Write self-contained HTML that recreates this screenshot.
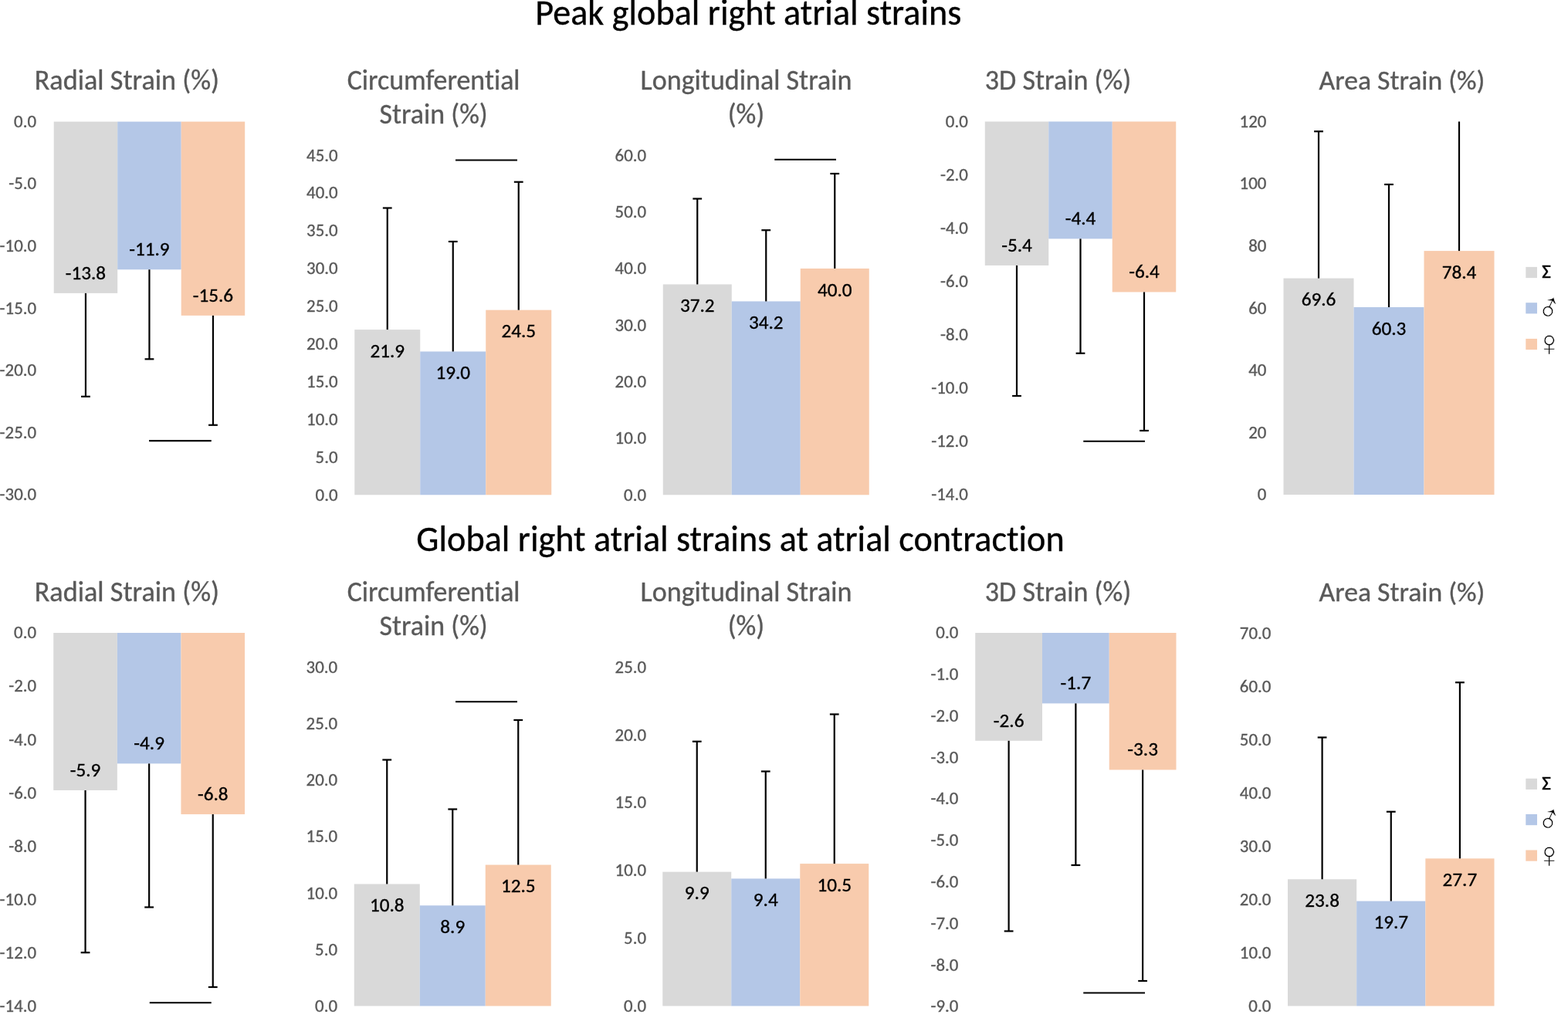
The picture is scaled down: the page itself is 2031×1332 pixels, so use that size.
<!DOCTYPE html>
<html><head><meta charset="utf-8"><title>Right atrial strains</title>
<style>
html,body{margin:0;padding:0;background:#fff;}
body{width:2031px;height:1332px;overflow:hidden;}
svg{display:block;font-family:Carlito, 'Liberation Sans', sans-serif;font-variant-ligatures:none;font-feature-settings:'liga' 0,'clig' 0;}
text{stroke-width:0.35px;}
</style></head><body>
<svg width="2031" height="1332" viewBox="0 0 2031 1332">
<rect width="2031" height="1332" fill="#fff"/>
<text x="164.40" y="116.25" font-size="36.2" fill="#595959" stroke="#595959" text-anchor="middle" textLength="239.39" lengthAdjust="spacingAndGlyphs">Radial Strain (%)</text>
<text x="47.00" y="648.14" font-size="22.8" fill="#595959" stroke="#595959" text-anchor="end" textLength="47.41" lengthAdjust="spacingAndGlyphs">-30.0</text>
<text x="47.00" y="567.61" font-size="22.8" fill="#595959" stroke="#595959" text-anchor="end" textLength="47.41" lengthAdjust="spacingAndGlyphs">-25.0</text>
<text x="47.00" y="487.07" font-size="22.8" fill="#595959" stroke="#595959" text-anchor="end" textLength="47.41" lengthAdjust="spacingAndGlyphs">-20.0</text>
<text x="47.00" y="406.54" font-size="22.8" fill="#595959" stroke="#595959" text-anchor="end" textLength="47.41" lengthAdjust="spacingAndGlyphs">-15.0</text>
<text x="47.00" y="326.01" font-size="22.8" fill="#595959" stroke="#595959" text-anchor="end" textLength="47.41" lengthAdjust="spacingAndGlyphs">-10.0</text>
<text x="47.00" y="245.47" font-size="22.8" fill="#595959" stroke="#595959" text-anchor="end" textLength="35.84" lengthAdjust="spacingAndGlyphs">-5.0</text>
<text x="47.00" y="164.94" font-size="22.8" fill="#595959" stroke="#595959" text-anchor="end" textLength="28.88" lengthAdjust="spacingAndGlyphs">0.0</text>
<rect x="69.70" y="157.60" width="82.50" height="222.27" fill="#D9D9D9"/>
<rect x="152.20" y="157.60" width="82.50" height="191.67" fill="#B4C7E7"/>
<rect x="234.70" y="157.60" width="82.50" height="251.26" fill="#F8CBAD"/>
<line x1="110.95" y1="379.87" x2="110.95" y2="513.80" stroke="#000" stroke-width="2.2"/>
<line x1="105.05" y1="513.80" x2="116.85" y2="513.80" stroke="#000" stroke-width="2.2"/>
<text x="110.95" y="361.77" font-size="25.2" fill="#000" stroke="#000" text-anchor="middle" textLength="52.38" lengthAdjust="spacingAndGlyphs">-13.8</text>
<line x1="193.45" y1="349.27" x2="193.45" y2="465.30" stroke="#000" stroke-width="2.2"/>
<line x1="187.55" y1="465.30" x2="199.35" y2="465.30" stroke="#000" stroke-width="2.2"/>
<text x="193.45" y="331.17" font-size="25.2" fill="#000" stroke="#000" text-anchor="middle" textLength="52.38" lengthAdjust="spacingAndGlyphs">-11.9</text>
<line x1="275.95" y1="408.86" x2="275.95" y2="550.75" stroke="#000" stroke-width="2.2"/>
<line x1="270.05" y1="550.75" x2="281.85" y2="550.75" stroke="#000" stroke-width="2.2"/>
<text x="275.95" y="390.76" font-size="25.2" fill="#000" stroke="#000" text-anchor="middle" textLength="52.38" lengthAdjust="spacingAndGlyphs">-15.6</text>
<line x1="193.10" y1="571.10" x2="273.75" y2="571.10" stroke="#000" stroke-width="2.2"/>
<text x="561.65" y="116.25" font-size="35.9" fill="#595959" stroke="#595959" text-anchor="middle" textLength="223.89" lengthAdjust="spacingAndGlyphs">Circumferential</text>
<text x="561.65" y="160.00" font-size="35.9" fill="#595959" stroke="#595959" text-anchor="middle" textLength="140.12" lengthAdjust="spacingAndGlyphs">Strain (%)</text>
<text x="437.50" y="648.59" font-size="22.8" fill="#595959" stroke="#595959" text-anchor="end" textLength="28.88" lengthAdjust="spacingAndGlyphs">0.0</text>
<text x="437.50" y="599.70" font-size="22.8" fill="#595959" stroke="#595959" text-anchor="end" textLength="28.88" lengthAdjust="spacingAndGlyphs">5.0</text>
<text x="437.50" y="550.81" font-size="22.8" fill="#595959" stroke="#595959" text-anchor="end" textLength="40.42" lengthAdjust="spacingAndGlyphs">10.0</text>
<text x="437.50" y="501.92" font-size="22.8" fill="#595959" stroke="#595959" text-anchor="end" textLength="40.42" lengthAdjust="spacingAndGlyphs">15.0</text>
<text x="437.50" y="453.04" font-size="22.8" fill="#595959" stroke="#595959" text-anchor="end" textLength="40.42" lengthAdjust="spacingAndGlyphs">20.0</text>
<text x="437.50" y="404.15" font-size="22.8" fill="#595959" stroke="#595959" text-anchor="end" textLength="40.42" lengthAdjust="spacingAndGlyphs">25.0</text>
<text x="437.50" y="355.26" font-size="22.8" fill="#595959" stroke="#595959" text-anchor="end" textLength="40.42" lengthAdjust="spacingAndGlyphs">30.0</text>
<text x="437.50" y="306.37" font-size="22.8" fill="#595959" stroke="#595959" text-anchor="end" textLength="40.42" lengthAdjust="spacingAndGlyphs">35.0</text>
<text x="437.50" y="257.48" font-size="22.8" fill="#595959" stroke="#595959" text-anchor="end" textLength="40.42" lengthAdjust="spacingAndGlyphs">40.0</text>
<text x="437.50" y="208.59" font-size="22.8" fill="#595959" stroke="#595959" text-anchor="end" textLength="40.42" lengthAdjust="spacingAndGlyphs">45.0</text>
<rect x="459.25" y="427.12" width="85.00" height="214.13" fill="#D9D9D9"/>
<rect x="544.25" y="455.47" width="85.00" height="185.78" fill="#B4C7E7"/>
<rect x="629.25" y="401.69" width="85.00" height="239.56" fill="#F8CBAD"/>
<line x1="501.75" y1="427.12" x2="501.75" y2="269.50" stroke="#000" stroke-width="2.2"/>
<line x1="495.85" y1="269.50" x2="507.65" y2="269.50" stroke="#000" stroke-width="2.2"/>
<text x="501.75" y="462.87" font-size="25.2" fill="#000" stroke="#000" text-anchor="middle" textLength="44.66" lengthAdjust="spacingAndGlyphs">21.9</text>
<line x1="586.75" y1="455.47" x2="586.75" y2="313.00" stroke="#000" stroke-width="2.2"/>
<line x1="580.85" y1="313.00" x2="592.65" y2="313.00" stroke="#000" stroke-width="2.2"/>
<text x="586.75" y="491.22" font-size="25.2" fill="#000" stroke="#000" text-anchor="middle" textLength="44.66" lengthAdjust="spacingAndGlyphs">19.0</text>
<line x1="671.75" y1="401.69" x2="671.75" y2="235.75" stroke="#000" stroke-width="2.2"/>
<line x1="665.85" y1="235.75" x2="677.65" y2="235.75" stroke="#000" stroke-width="2.2"/>
<text x="671.75" y="437.44" font-size="25.2" fill="#000" stroke="#000" text-anchor="middle" textLength="44.66" lengthAdjust="spacingAndGlyphs">24.5</text>
<line x1="590.00" y1="207.50" x2="670.00" y2="207.50" stroke="#000" stroke-width="2.2"/>
<text x="966.50" y="116.25" font-size="36.0" fill="#595959" stroke="#595959" text-anchor="middle" textLength="273.78" lengthAdjust="spacingAndGlyphs">Longitudinal Strain</text>
<text x="966.50" y="160.00" font-size="36.0" fill="#595959" stroke="#595959" text-anchor="middle" textLength="47.58" lengthAdjust="spacingAndGlyphs">(%)</text>
<text x="837.00" y="648.59" font-size="22.8" fill="#595959" stroke="#595959" text-anchor="end" textLength="28.88" lengthAdjust="spacingAndGlyphs">0.0</text>
<text x="837.00" y="575.26" font-size="22.8" fill="#595959" stroke="#595959" text-anchor="end" textLength="40.42" lengthAdjust="spacingAndGlyphs">10.0</text>
<text x="837.00" y="501.92" font-size="22.8" fill="#595959" stroke="#595959" text-anchor="end" textLength="40.42" lengthAdjust="spacingAndGlyphs">20.0</text>
<text x="837.00" y="428.59" font-size="22.8" fill="#595959" stroke="#595959" text-anchor="end" textLength="40.42" lengthAdjust="spacingAndGlyphs">30.0</text>
<text x="837.00" y="355.26" font-size="22.8" fill="#595959" stroke="#595959" text-anchor="end" textLength="40.42" lengthAdjust="spacingAndGlyphs">40.0</text>
<text x="837.00" y="281.92" font-size="22.8" fill="#595959" stroke="#595959" text-anchor="end" textLength="40.42" lengthAdjust="spacingAndGlyphs">50.0</text>
<text x="837.00" y="208.59" font-size="22.8" fill="#595959" stroke="#595959" text-anchor="end" textLength="40.42" lengthAdjust="spacingAndGlyphs">60.0</text>
<rect x="858.75" y="368.45" width="89.00" height="272.80" fill="#D9D9D9"/>
<rect x="947.75" y="390.45" width="89.00" height="250.80" fill="#B4C7E7"/>
<rect x="1036.75" y="347.92" width="89.00" height="293.33" fill="#F8CBAD"/>
<line x1="903.25" y1="368.45" x2="903.25" y2="257.50" stroke="#000" stroke-width="2.2"/>
<line x1="897.35" y1="257.50" x2="909.15" y2="257.50" stroke="#000" stroke-width="2.2"/>
<text x="903.25" y="404.20" font-size="25.2" fill="#000" stroke="#000" text-anchor="middle" textLength="44.66" lengthAdjust="spacingAndGlyphs">37.2</text>
<line x1="992.25" y1="390.45" x2="992.25" y2="298.25" stroke="#000" stroke-width="2.2"/>
<line x1="986.35" y1="298.25" x2="998.15" y2="298.25" stroke="#000" stroke-width="2.2"/>
<text x="992.25" y="426.20" font-size="25.2" fill="#000" stroke="#000" text-anchor="middle" textLength="44.66" lengthAdjust="spacingAndGlyphs">34.2</text>
<line x1="1081.25" y1="347.92" x2="1081.25" y2="225.00" stroke="#000" stroke-width="2.2"/>
<line x1="1075.35" y1="225.00" x2="1087.15" y2="225.00" stroke="#000" stroke-width="2.2"/>
<text x="1081.25" y="383.67" font-size="25.2" fill="#000" stroke="#000" text-anchor="middle" textLength="44.66" lengthAdjust="spacingAndGlyphs">40.0</text>
<line x1="1003.25" y1="206.75" x2="1083.00" y2="206.75" stroke="#000" stroke-width="2.2"/>
<text x="1370.50" y="116.25" font-size="36.05" fill="#595959" stroke="#595959" text-anchor="middle" textLength="189.33" lengthAdjust="spacingAndGlyphs">3D Strain (%)</text>
<text x="1253.75" y="648.14" font-size="22.8" fill="#595959" stroke="#595959" text-anchor="end" textLength="47.41" lengthAdjust="spacingAndGlyphs">-14.0</text>
<text x="1253.75" y="579.10" font-size="22.8" fill="#595959" stroke="#595959" text-anchor="end" textLength="47.41" lengthAdjust="spacingAndGlyphs">-12.0</text>
<text x="1253.75" y="510.06" font-size="22.8" fill="#595959" stroke="#595959" text-anchor="end" textLength="47.41" lengthAdjust="spacingAndGlyphs">-10.0</text>
<text x="1253.75" y="441.01" font-size="22.8" fill="#595959" stroke="#595959" text-anchor="end" textLength="35.84" lengthAdjust="spacingAndGlyphs">-8.0</text>
<text x="1253.75" y="371.97" font-size="22.8" fill="#595959" stroke="#595959" text-anchor="end" textLength="35.84" lengthAdjust="spacingAndGlyphs">-6.0</text>
<text x="1253.75" y="302.93" font-size="22.8" fill="#595959" stroke="#595959" text-anchor="end" textLength="35.84" lengthAdjust="spacingAndGlyphs">-4.0</text>
<text x="1253.75" y="233.88" font-size="22.8" fill="#595959" stroke="#595959" text-anchor="end" textLength="35.84" lengthAdjust="spacingAndGlyphs">-2.0</text>
<text x="1253.75" y="164.84" font-size="22.8" fill="#595959" stroke="#595959" text-anchor="end" textLength="28.88" lengthAdjust="spacingAndGlyphs">0.0</text>
<rect x="1275.75" y="157.50" width="82.50" height="186.42" fill="#D9D9D9"/>
<rect x="1358.25" y="157.50" width="82.50" height="151.89" fill="#B4C7E7"/>
<rect x="1440.75" y="157.50" width="82.50" height="220.94" fill="#F8CBAD"/>
<line x1="1317.00" y1="343.92" x2="1317.00" y2="513.00" stroke="#000" stroke-width="2.2"/>
<line x1="1311.10" y1="513.00" x2="1322.90" y2="513.00" stroke="#000" stroke-width="2.2"/>
<text x="1317.00" y="325.82" font-size="25.2" fill="#000" stroke="#000" text-anchor="middle" textLength="39.61" lengthAdjust="spacingAndGlyphs">-5.4</text>
<line x1="1399.50" y1="309.39" x2="1399.50" y2="457.75" stroke="#000" stroke-width="2.2"/>
<line x1="1393.60" y1="457.75" x2="1405.40" y2="457.75" stroke="#000" stroke-width="2.2"/>
<text x="1399.50" y="291.29" font-size="25.2" fill="#000" stroke="#000" text-anchor="middle" textLength="39.61" lengthAdjust="spacingAndGlyphs">-4.4</text>
<line x1="1482.00" y1="378.44" x2="1482.00" y2="558.00" stroke="#000" stroke-width="2.2"/>
<line x1="1476.10" y1="558.00" x2="1487.90" y2="558.00" stroke="#000" stroke-width="2.2"/>
<text x="1482.00" y="360.34" font-size="25.2" fill="#000" stroke="#000" text-anchor="middle" textLength="39.61" lengthAdjust="spacingAndGlyphs">-6.4</text>
<line x1="1403.25" y1="571.75" x2="1483.00" y2="571.75" stroke="#000" stroke-width="2.2"/>
<text x="1816.00" y="116.25" font-size="35.7" fill="#595959" stroke="#595959" text-anchor="middle" textLength="214.86" lengthAdjust="spacingAndGlyphs">Area Strain (%)</text>
<text x="1640.25" y="648.34" font-size="22.8" fill="#595959" stroke="#595959" text-anchor="end" textLength="11.56" lengthAdjust="spacingAndGlyphs">0</text>
<text x="1640.25" y="567.76" font-size="22.8" fill="#595959" stroke="#595959" text-anchor="end" textLength="23.11" lengthAdjust="spacingAndGlyphs">20</text>
<text x="1640.25" y="487.17" font-size="22.8" fill="#595959" stroke="#595959" text-anchor="end" textLength="23.11" lengthAdjust="spacingAndGlyphs">40</text>
<text x="1640.25" y="406.59" font-size="22.8" fill="#595959" stroke="#595959" text-anchor="end" textLength="23.11" lengthAdjust="spacingAndGlyphs">60</text>
<text x="1640.25" y="326.01" font-size="22.8" fill="#595959" stroke="#595959" text-anchor="end" textLength="23.11" lengthAdjust="spacingAndGlyphs">80</text>
<text x="1640.25" y="245.42" font-size="22.8" fill="#595959" stroke="#595959" text-anchor="end" textLength="34.67" lengthAdjust="spacingAndGlyphs">100</text>
<text x="1640.25" y="164.84" font-size="22.8" fill="#595959" stroke="#595959" text-anchor="end" textLength="34.67" lengthAdjust="spacingAndGlyphs">120</text>
<rect x="1662.50" y="360.57" width="91.00" height="280.43" fill="#D9D9D9"/>
<rect x="1753.50" y="398.04" width="91.00" height="242.96" fill="#B4C7E7"/>
<rect x="1844.50" y="325.11" width="91.00" height="315.89" fill="#F8CBAD"/>
<line x1="1708.00" y1="360.57" x2="1708.00" y2="170.25" stroke="#000" stroke-width="2.2"/>
<line x1="1702.10" y1="170.25" x2="1713.90" y2="170.25" stroke="#000" stroke-width="2.2"/>
<text x="1708.00" y="396.32" font-size="25.2" fill="#000" stroke="#000" text-anchor="middle" textLength="44.66" lengthAdjust="spacingAndGlyphs">69.6</text>
<line x1="1799.00" y1="398.04" x2="1799.00" y2="239.00" stroke="#000" stroke-width="2.2"/>
<line x1="1793.10" y1="239.00" x2="1804.90" y2="239.00" stroke="#000" stroke-width="2.2"/>
<text x="1799.00" y="433.79" font-size="25.2" fill="#000" stroke="#000" text-anchor="middle" textLength="44.66" lengthAdjust="spacingAndGlyphs">60.3</text>
<line x1="1890.00" y1="325.11" x2="1890.00" y2="157.50" stroke="#000" stroke-width="2.2"/>
<text x="1890.00" y="360.86" font-size="25.2" fill="#000" stroke="#000" text-anchor="middle" textLength="44.66" lengthAdjust="spacingAndGlyphs">78.4</text>
<text x="164.40" y="778.75" font-size="36.2" fill="#595959" stroke="#595959" text-anchor="middle" textLength="239.39" lengthAdjust="spacingAndGlyphs">Radial Strain (%)</text>
<text x="47.00" y="1311.34" font-size="22.8" fill="#595959" stroke="#595959" text-anchor="end" textLength="47.41" lengthAdjust="spacingAndGlyphs">-14.0</text>
<text x="47.00" y="1242.20" font-size="22.8" fill="#595959" stroke="#595959" text-anchor="end" textLength="47.41" lengthAdjust="spacingAndGlyphs">-12.0</text>
<text x="47.00" y="1173.06" font-size="22.8" fill="#595959" stroke="#595959" text-anchor="end" textLength="47.41" lengthAdjust="spacingAndGlyphs">-10.0</text>
<text x="47.00" y="1103.91" font-size="22.8" fill="#595959" stroke="#595959" text-anchor="end" textLength="35.84" lengthAdjust="spacingAndGlyphs">-8.0</text>
<text x="47.00" y="1034.77" font-size="22.8" fill="#595959" stroke="#595959" text-anchor="end" textLength="35.84" lengthAdjust="spacingAndGlyphs">-6.0</text>
<text x="47.00" y="965.63" font-size="22.8" fill="#595959" stroke="#595959" text-anchor="end" textLength="35.84" lengthAdjust="spacingAndGlyphs">-4.0</text>
<text x="47.00" y="896.48" font-size="22.8" fill="#595959" stroke="#595959" text-anchor="end" textLength="35.84" lengthAdjust="spacingAndGlyphs">-2.0</text>
<text x="47.00" y="827.34" font-size="22.8" fill="#595959" stroke="#595959" text-anchor="end" textLength="28.88" lengthAdjust="spacingAndGlyphs">0.0</text>
<rect x="69.25" y="820.00" width="82.60" height="203.97" fill="#D9D9D9"/>
<rect x="151.85" y="820.00" width="82.60" height="169.40" fill="#B4C7E7"/>
<rect x="234.45" y="820.00" width="82.60" height="235.09" fill="#F8CBAD"/>
<line x1="110.55" y1="1023.97" x2="110.55" y2="1234.25" stroke="#000" stroke-width="2.2"/>
<line x1="104.65" y1="1234.25" x2="116.45" y2="1234.25" stroke="#000" stroke-width="2.2"/>
<text x="110.55" y="1005.87" font-size="25.2" fill="#000" stroke="#000" text-anchor="middle" textLength="39.61" lengthAdjust="spacingAndGlyphs">-5.9</text>
<line x1="193.15" y1="989.40" x2="193.15" y2="1175.50" stroke="#000" stroke-width="2.2"/>
<line x1="187.25" y1="1175.50" x2="199.05" y2="1175.50" stroke="#000" stroke-width="2.2"/>
<text x="193.15" y="971.30" font-size="25.2" fill="#000" stroke="#000" text-anchor="middle" textLength="39.61" lengthAdjust="spacingAndGlyphs">-4.9</text>
<line x1="275.75" y1="1055.09" x2="275.75" y2="1279.00" stroke="#000" stroke-width="2.2"/>
<line x1="269.85" y1="1279.00" x2="281.65" y2="1279.00" stroke="#000" stroke-width="2.2"/>
<text x="275.75" y="1036.99" font-size="25.2" fill="#000" stroke="#000" text-anchor="middle" textLength="39.61" lengthAdjust="spacingAndGlyphs">-6.8</text>
<line x1="193.75" y1="1299.25" x2="273.75" y2="1299.25" stroke="#000" stroke-width="2.2"/>
<text x="561.65" y="778.75" font-size="35.9" fill="#595959" stroke="#595959" text-anchor="middle" textLength="223.89" lengthAdjust="spacingAndGlyphs">Circumferential</text>
<text x="561.65" y="822.50" font-size="35.9" fill="#595959" stroke="#595959" text-anchor="middle" textLength="140.12" lengthAdjust="spacingAndGlyphs">Strain (%)</text>
<text x="437.00" y="1310.84" font-size="22.8" fill="#595959" stroke="#595959" text-anchor="end" textLength="28.88" lengthAdjust="spacingAndGlyphs">0.0</text>
<text x="437.00" y="1237.67" font-size="22.8" fill="#595959" stroke="#595959" text-anchor="end" textLength="28.88" lengthAdjust="spacingAndGlyphs">5.0</text>
<text x="437.00" y="1164.51" font-size="22.8" fill="#595959" stroke="#595959" text-anchor="end" textLength="40.42" lengthAdjust="spacingAndGlyphs">10.0</text>
<text x="437.00" y="1091.34" font-size="22.8" fill="#595959" stroke="#595959" text-anchor="end" textLength="40.42" lengthAdjust="spacingAndGlyphs">15.0</text>
<text x="437.00" y="1018.17" font-size="22.8" fill="#595959" stroke="#595959" text-anchor="end" textLength="40.42" lengthAdjust="spacingAndGlyphs">20.0</text>
<text x="437.00" y="945.01" font-size="22.8" fill="#595959" stroke="#595959" text-anchor="end" textLength="40.42" lengthAdjust="spacingAndGlyphs">25.0</text>
<text x="437.00" y="871.84" font-size="22.8" fill="#595959" stroke="#595959" text-anchor="end" textLength="40.42" lengthAdjust="spacingAndGlyphs">30.0</text>
<rect x="458.75" y="1145.46" width="85.00" height="158.04" fill="#D9D9D9"/>
<rect x="543.75" y="1173.26" width="85.00" height="130.24" fill="#B4C7E7"/>
<rect x="628.75" y="1120.58" width="85.00" height="182.92" fill="#F8CBAD"/>
<line x1="501.25" y1="1145.46" x2="501.25" y2="984.50" stroke="#000" stroke-width="2.2"/>
<line x1="495.35" y1="984.50" x2="507.15" y2="984.50" stroke="#000" stroke-width="2.2"/>
<text x="501.25" y="1181.21" font-size="25.2" fill="#000" stroke="#000" text-anchor="middle" textLength="44.66" lengthAdjust="spacingAndGlyphs">10.8</text>
<line x1="586.25" y1="1173.26" x2="586.25" y2="1048.50" stroke="#000" stroke-width="2.2"/>
<line x1="580.35" y1="1048.50" x2="592.15" y2="1048.50" stroke="#000" stroke-width="2.2"/>
<text x="586.25" y="1209.01" font-size="25.2" fill="#000" stroke="#000" text-anchor="middle" textLength="31.89" lengthAdjust="spacingAndGlyphs">8.9</text>
<line x1="671.25" y1="1120.58" x2="671.25" y2="933.00" stroke="#000" stroke-width="2.2"/>
<line x1="665.35" y1="933.00" x2="677.15" y2="933.00" stroke="#000" stroke-width="2.2"/>
<text x="671.25" y="1156.33" font-size="25.2" fill="#000" stroke="#000" text-anchor="middle" textLength="44.66" lengthAdjust="spacingAndGlyphs">12.5</text>
<line x1="590.00" y1="909.25" x2="670.00" y2="909.25" stroke="#000" stroke-width="2.2"/>
<text x="966.50" y="778.75" font-size="36.0" fill="#595959" stroke="#595959" text-anchor="middle" textLength="273.78" lengthAdjust="spacingAndGlyphs">Longitudinal Strain</text>
<text x="966.50" y="822.50" font-size="36.0" fill="#595959" stroke="#595959" text-anchor="middle" textLength="47.58" lengthAdjust="spacingAndGlyphs">(%)</text>
<text x="837.00" y="1310.84" font-size="22.8" fill="#595959" stroke="#595959" text-anchor="end" textLength="28.88" lengthAdjust="spacingAndGlyphs">0.0</text>
<text x="837.00" y="1223.04" font-size="22.8" fill="#595959" stroke="#595959" text-anchor="end" textLength="28.88" lengthAdjust="spacingAndGlyphs">5.0</text>
<text x="837.00" y="1135.24" font-size="22.8" fill="#595959" stroke="#595959" text-anchor="end" textLength="40.42" lengthAdjust="spacingAndGlyphs">10.0</text>
<text x="837.00" y="1047.44" font-size="22.8" fill="#595959" stroke="#595959" text-anchor="end" textLength="40.42" lengthAdjust="spacingAndGlyphs">15.0</text>
<text x="837.00" y="959.64" font-size="22.8" fill="#595959" stroke="#595959" text-anchor="end" textLength="40.42" lengthAdjust="spacingAndGlyphs">20.0</text>
<text x="837.00" y="871.84" font-size="22.8" fill="#595959" stroke="#595959" text-anchor="end" textLength="40.42" lengthAdjust="spacingAndGlyphs">25.0</text>
<rect x="858.25" y="1129.66" width="89.00" height="173.84" fill="#D9D9D9"/>
<rect x="947.25" y="1138.44" width="89.00" height="165.06" fill="#B4C7E7"/>
<rect x="1036.25" y="1119.12" width="89.00" height="184.38" fill="#F8CBAD"/>
<line x1="902.75" y1="1129.66" x2="902.75" y2="960.75" stroke="#000" stroke-width="2.2"/>
<line x1="896.85" y1="960.75" x2="908.65" y2="960.75" stroke="#000" stroke-width="2.2"/>
<text x="902.75" y="1165.41" font-size="25.2" fill="#000" stroke="#000" text-anchor="middle" textLength="31.89" lengthAdjust="spacingAndGlyphs">9.9</text>
<line x1="991.75" y1="1138.44" x2="991.75" y2="999.50" stroke="#000" stroke-width="2.2"/>
<line x1="985.85" y1="999.50" x2="997.65" y2="999.50" stroke="#000" stroke-width="2.2"/>
<text x="991.75" y="1174.19" font-size="25.2" fill="#000" stroke="#000" text-anchor="middle" textLength="31.89" lengthAdjust="spacingAndGlyphs">9.4</text>
<line x1="1080.75" y1="1119.12" x2="1080.75" y2="925.50" stroke="#000" stroke-width="2.2"/>
<line x1="1074.85" y1="925.50" x2="1086.65" y2="925.50" stroke="#000" stroke-width="2.2"/>
<text x="1080.75" y="1154.87" font-size="25.2" fill="#000" stroke="#000" text-anchor="middle" textLength="44.66" lengthAdjust="spacingAndGlyphs">10.5</text>
<text x="1370.50" y="778.75" font-size="36.05" fill="#595959" stroke="#595959" text-anchor="middle" textLength="189.33" lengthAdjust="spacingAndGlyphs">3D Strain (%)</text>
<text x="1241.25" y="1311.34" font-size="22.8" fill="#595959" stroke="#595959" text-anchor="end" textLength="35.84" lengthAdjust="spacingAndGlyphs">-9.0</text>
<text x="1241.25" y="1257.56" font-size="22.8" fill="#595959" stroke="#595959" text-anchor="end" textLength="35.84" lengthAdjust="spacingAndGlyphs">-8.0</text>
<text x="1241.25" y="1203.79" font-size="22.8" fill="#595959" stroke="#595959" text-anchor="end" textLength="35.84" lengthAdjust="spacingAndGlyphs">-7.0</text>
<text x="1241.25" y="1150.01" font-size="22.8" fill="#595959" stroke="#595959" text-anchor="end" textLength="35.84" lengthAdjust="spacingAndGlyphs">-6.0</text>
<text x="1241.25" y="1096.23" font-size="22.8" fill="#595959" stroke="#595959" text-anchor="end" textLength="35.84" lengthAdjust="spacingAndGlyphs">-5.0</text>
<text x="1241.25" y="1042.45" font-size="22.8" fill="#595959" stroke="#595959" text-anchor="end" textLength="35.84" lengthAdjust="spacingAndGlyphs">-4.0</text>
<text x="1241.25" y="988.67" font-size="22.8" fill="#595959" stroke="#595959" text-anchor="end" textLength="35.84" lengthAdjust="spacingAndGlyphs">-3.0</text>
<text x="1241.25" y="934.90" font-size="22.8" fill="#595959" stroke="#595959" text-anchor="end" textLength="35.84" lengthAdjust="spacingAndGlyphs">-2.0</text>
<text x="1241.25" y="881.12" font-size="22.8" fill="#595959" stroke="#595959" text-anchor="end" textLength="35.84" lengthAdjust="spacingAndGlyphs">-1.0</text>
<text x="1241.25" y="827.34" font-size="22.8" fill="#595959" stroke="#595959" text-anchor="end" textLength="28.88" lengthAdjust="spacingAndGlyphs">0.0</text>
<rect x="1263.25" y="820.00" width="86.75" height="139.82" fill="#D9D9D9"/>
<rect x="1350.00" y="820.00" width="86.75" height="91.42" fill="#B4C7E7"/>
<rect x="1436.75" y="820.00" width="86.75" height="177.47" fill="#F8CBAD"/>
<line x1="1306.62" y1="959.82" x2="1306.62" y2="1206.50" stroke="#000" stroke-width="2.2"/>
<line x1="1300.72" y1="1206.50" x2="1312.53" y2="1206.50" stroke="#000" stroke-width="2.2"/>
<text x="1306.62" y="941.72" font-size="25.2" fill="#000" stroke="#000" text-anchor="middle" textLength="39.61" lengthAdjust="spacingAndGlyphs">-2.6</text>
<line x1="1393.38" y1="911.42" x2="1393.38" y2="1121.00" stroke="#000" stroke-width="2.2"/>
<line x1="1387.47" y1="1121.00" x2="1399.28" y2="1121.00" stroke="#000" stroke-width="2.2"/>
<text x="1393.38" y="893.32" font-size="25.2" fill="#000" stroke="#000" text-anchor="middle" textLength="39.61" lengthAdjust="spacingAndGlyphs">-1.7</text>
<line x1="1480.12" y1="997.47" x2="1480.12" y2="1271.00" stroke="#000" stroke-width="2.2"/>
<line x1="1474.22" y1="1271.00" x2="1486.03" y2="1271.00" stroke="#000" stroke-width="2.2"/>
<text x="1480.12" y="979.37" font-size="25.2" fill="#000" stroke="#000" text-anchor="middle" textLength="39.61" lengthAdjust="spacingAndGlyphs">-3.3</text>
<line x1="1403.25" y1="1286.50" x2="1483.00" y2="1286.50" stroke="#000" stroke-width="2.2"/>
<text x="1816.00" y="778.75" font-size="35.7" fill="#595959" stroke="#595959" text-anchor="middle" textLength="214.86" lengthAdjust="spacingAndGlyphs">Area Strain (%)</text>
<text x="1646.25" y="1310.84" font-size="22.8" fill="#595959" stroke="#595959" text-anchor="end" textLength="28.88" lengthAdjust="spacingAndGlyphs">0.0</text>
<text x="1646.25" y="1241.84" font-size="22.8" fill="#595959" stroke="#595959" text-anchor="end" textLength="40.42" lengthAdjust="spacingAndGlyphs">10.0</text>
<text x="1646.25" y="1172.84" font-size="22.8" fill="#595959" stroke="#595959" text-anchor="end" textLength="40.42" lengthAdjust="spacingAndGlyphs">20.0</text>
<text x="1646.25" y="1103.84" font-size="22.8" fill="#595959" stroke="#595959" text-anchor="end" textLength="40.42" lengthAdjust="spacingAndGlyphs">30.0</text>
<text x="1646.25" y="1034.84" font-size="22.8" fill="#595959" stroke="#595959" text-anchor="end" textLength="40.42" lengthAdjust="spacingAndGlyphs">40.0</text>
<text x="1646.25" y="965.84" font-size="22.8" fill="#595959" stroke="#595959" text-anchor="end" textLength="40.42" lengthAdjust="spacingAndGlyphs">50.0</text>
<text x="1646.25" y="896.84" font-size="22.8" fill="#595959" stroke="#595959" text-anchor="end" textLength="40.42" lengthAdjust="spacingAndGlyphs">60.0</text>
<text x="1646.25" y="827.84" font-size="22.8" fill="#595959" stroke="#595959" text-anchor="end" textLength="40.42" lengthAdjust="spacingAndGlyphs">70.0</text>
<rect x="1668.00" y="1139.28" width="89.17" height="164.22" fill="#D9D9D9"/>
<rect x="1757.17" y="1167.57" width="89.17" height="135.93" fill="#B4C7E7"/>
<rect x="1846.34" y="1112.37" width="89.17" height="191.13" fill="#F8CBAD"/>
<line x1="1712.59" y1="1139.28" x2="1712.59" y2="955.50" stroke="#000" stroke-width="2.2"/>
<line x1="1706.68" y1="955.50" x2="1718.49" y2="955.50" stroke="#000" stroke-width="2.2"/>
<text x="1712.59" y="1175.03" font-size="25.2" fill="#000" stroke="#000" text-anchor="middle" textLength="44.66" lengthAdjust="spacingAndGlyphs">23.8</text>
<line x1="1801.76" y1="1167.57" x2="1801.76" y2="1051.75" stroke="#000" stroke-width="2.2"/>
<line x1="1795.86" y1="1051.75" x2="1807.66" y2="1051.75" stroke="#000" stroke-width="2.2"/>
<text x="1801.76" y="1203.32" font-size="25.2" fill="#000" stroke="#000" text-anchor="middle" textLength="44.66" lengthAdjust="spacingAndGlyphs">19.7</text>
<line x1="1890.92" y1="1112.37" x2="1890.92" y2="884.25" stroke="#000" stroke-width="2.2"/>
<line x1="1885.02" y1="884.25" x2="1896.83" y2="884.25" stroke="#000" stroke-width="2.2"/>
<text x="1890.92" y="1148.12" font-size="25.2" fill="#000" stroke="#000" text-anchor="middle" textLength="44.66" lengthAdjust="spacingAndGlyphs">27.7</text>
<text x="969.30" y="31.80" font-size="46.2" fill="#000" stroke="#000" text-anchor="middle" textLength="552.06" lengthAdjust="spacingAndGlyphs">Peak global right atrial strains</text>
<text x="959.00" y="714.40" font-size="46.2" fill="#000" stroke="#000" text-anchor="middle" textLength="839.39" lengthAdjust="spacingAndGlyphs">Global right atrial strains at atrial contraction</text>
<rect x="1976.3" y="345.90" width="14.7" height="14.2" fill="#D9D9D9"/>
<rect x="1976.3" y="392.20" width="14.7" height="14.2" fill="#B4C7E7"/>
<rect x="1976.3" y="438.90" width="14.7" height="14.2" fill="#F8CBAD"/>
<text x="1997.3" y="360.40" font-size="25.2" fill="#000" stroke="#000" style="stroke-width:0.6px" textLength="11.56" lengthAdjust="spacingAndGlyphs">Σ</text>
<text x="1990.50" y="415.95" font-size="47.5" fill="#000" stroke="#fff" style="stroke-width:0.45px" font-family="Liberation Sans, DejaVu Sans, sans-serif" transform="rotate(-19.7 2005.00 403.35)">♂</text>
<text x="1989.0" y="460.80" font-size="47.2" fill="#000" stroke="#fff" style="stroke-width:0.45px" font-family="Liberation Sans, DejaVu Sans, sans-serif">♀</text>
<rect x="1976.3" y="1008.75" width="14.7" height="14.2" fill="#D9D9D9"/>
<rect x="1976.3" y="1055.00" width="14.7" height="14.2" fill="#B4C7E7"/>
<rect x="1976.3" y="1101.50" width="14.7" height="14.2" fill="#F8CBAD"/>
<text x="1997.3" y="1023.25" font-size="25.2" fill="#000" stroke="#000" style="stroke-width:0.6px" textLength="11.56" lengthAdjust="spacingAndGlyphs">Σ</text>
<text x="1990.50" y="1078.80" font-size="47.5" fill="#000" stroke="#fff" style="stroke-width:0.45px" font-family="Liberation Sans, DejaVu Sans, sans-serif" transform="rotate(-19.7 2005.00 1066.20)">♂</text>
<text x="1989.0" y="1123.65" font-size="47.2" fill="#000" stroke="#fff" style="stroke-width:0.45px" font-family="Liberation Sans, DejaVu Sans, sans-serif">♀</text>
</svg>
</body></html>
